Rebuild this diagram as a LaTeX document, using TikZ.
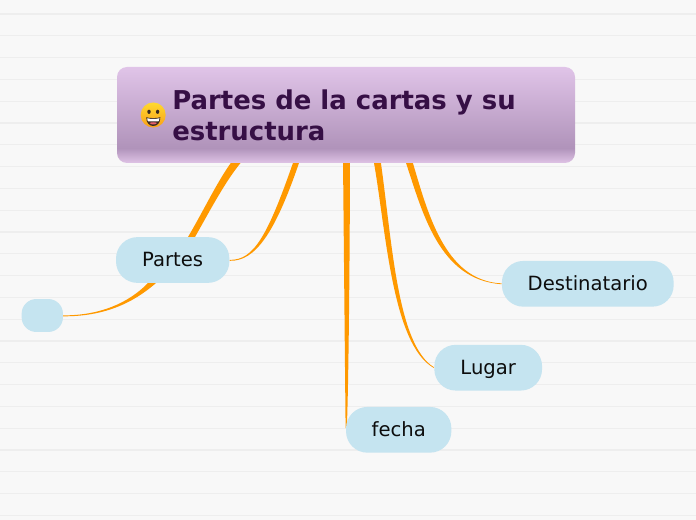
\documentclass[tikz,border=0pt]{standalone}
\usepackage{fontspec}
\setmainfont{DejaVu Sans}
\definecolor{pagebg}{HTML}{F8F8F8}
\definecolor{gridc}{HTML}{EEEEEE}
\definecolor{branchc}{HTML}{FF9900}
\definecolor{topicc}{HTML}{C5E4F0}
\definecolor{titlec}{HTML}{360F45}
\definecolor{rtop}{HTML}{E0C4E8}
\definecolor{rdark}{HTML}{B093BA}
\definecolor{rlow}{HTML}{DFC3E6}
\definecolor{smtop}{HTML}{FFD92E}
\definecolor{smlow}{HTML}{F9A01B}
\definecolor{smdark}{HTML}{3A2A20}
\definecolor{smtongue}{HTML}{E8606A}
\pgfdeclareverticalshading{rootshade}{100bp}{
  color(0bp)=(rlow); color(25bp)=(rlow); color(32.8bp)=(rdark); color(75bp)=(rtop); color(100bp)=(rtop)}
\pgfdeclareverticalshading{smileshade}{100bp}{
  color(0bp)=(smlow); color(25bp)=(smlow); color(75bp)=(smtop); color(100bp)=(smtop)}
\pgfdeclarelayer{gridlayer}
\pgfdeclarelayer{connlayer}
\pgfsetlayers{gridlayer,connlayer,main}
\tikzset{
  x=0.75pt,y=-0.75pt,
  branch/.style={fill=branchc,draw=none},
  rootbox/.style={shading=rootshade,shading angle=0,rounded corners=7.5pt,minimum width=343.5pt,minimum height=72pt,inner sep=0pt,draw=none},
  title/.style={text=titlec,font=\fontsize{19.45pt}{23.25pt}\selectfont\bfseries,align=left,inner sep=0pt},
  topic/.style={fill=topicc,rounded corners=16pt,minimum height=34.3pt,inner sep=0pt,text=black!95,text height=12.5pt,text depth=2pt,font=\fontsize{14.7pt}{17pt}\selectfont},
}
\begin{document}
\begin{tikzpicture}
\useasboundingbox (0,0) rectangle (696,520);
\begin{pgfonlayer}{gridlayer}
\fill[pagebg] (0,0) rectangle (696,520);
\foreach \k in {0,...,23}{\draw[gridc,line width=0.8pt] (0,14+21.8*\k) -- (696,14+21.8*\k);}
\end{pgfonlayer}
\node[rootbox] (root) at (346,115) {};
\node[title,anchor=west] (rootlabel) at (172,115.6) {Partes de la cartas y su\\estructura};
\node[topic,minimum width=85pt] (partes) at (172.7,260) {Partes};
\node[topic,minimum width=31pt,minimum height=24.7pt,rounded corners=11pt] (empty) at (42.3,315.5) {};
\node[topic,minimum width=128.8pt] (destinatario) at (587.8,283.8) {Destinatario};
\node[topic,minimum width=80.8pt] (lugar) at (488.2,367.7) {Lugar};
\node[topic,minimum width=79pt] (fecha) at (398.7,429.8) {fecha};
% emoji
\node[circle,minimum size=18.8pt,inner sep=0pt,shading=smileshade,shading angle=0] (smile) at (153.2,115) {};
\fill[smdark] (149,111.8) ellipse (1.7 and 2.1) (157.6,111.8) ellipse (1.7 and 2.1);
\fill[smdark] (146.3,117.2) .. controls (149,118.4) and (157.6,118.4) .. (160.3,117.2) .. controls (160.6,123) and (157,126) .. (153.3,126) .. controls (149.6,126) and (146,123) .. (146.3,117.2) -- cycle;
\fill[white] (147.3,118.2) .. controls (150,119.2) and (156.6,119.2) .. (159.3,118.2) .. controls (159.4,120) and (159,120.8) .. (158.4,121.4) -- (148.2,121.4) .. controls (147.6,120.8) and (147.2,120) .. (147.3,118.2) -- cycle;
\fill[smtongue] (149.6,123) .. controls (151,122) and (155.6,122) .. (157,123) .. controls (155.6,125) and (151,125) .. (149.6,123) -- cycle;
\coordinate (ra1) at (233,160); \coordinate (ra2) at (243,160);
\coordinate (rb1) at (294,160); \coordinate (rb2) at (300,160);
\coordinate (rc1) at (343,160); \coordinate (rc2) at (350,160);
\coordinate (rd1) at (373.5,160); \coordinate (rd2) at (380.5,160);
\coordinate (re1) at (405,160); \coordinate (re2) at (412,160);
\begin{pgfonlayer}{connlayer}
\fill[branch] ([yshift=.1pt]empty.east) .. controls (100,315.5) and (128,303) .. (147,284) .. controls (162,268) and (178,250) .. (188,237) .. controls (205,208) and (218,180) .. (ra1) -- (ra2) .. controls (226,180) and (212,207) .. (195,237) .. controls (183,257) and (170,270) .. (156,283) .. controls (132,304) and (103,316.5) .. ([yshift=-.6pt]empty.east) -- cycle;
\fill[branch] ([yshift=.1pt]partes.east) .. controls (254,260.5) and (268,235) .. (rb1) -- (rb2) .. controls (275,234) and (255,261.5) .. ([yshift=-.6pt]partes.east) -- cycle;
\fill[branch] (rc1) .. controls (344,260) and (344.8,350) .. (345.6,428) -- (346.8,428) .. controls (348.5,390) and (349.8,260) .. (rc2) -- cycle;
\fill[branch] (rd1) .. controls (386,230) and (392,345) .. ([yshift=-.3pt]lugar.west) -- ([yshift=.3pt]lugar.west) .. controls (397,345) and (392,240) .. (rd2) -- cycle;
\fill[branch] (re1) .. controls (422,210) and (438,280) .. ([yshift=-.3pt]destinatario.west) -- ([yshift=.3pt]destinatario.west) .. controls (444,281) and (427,210) .. (re2) -- cycle;
\end{pgfonlayer}
\end{tikzpicture}
\end{document}
